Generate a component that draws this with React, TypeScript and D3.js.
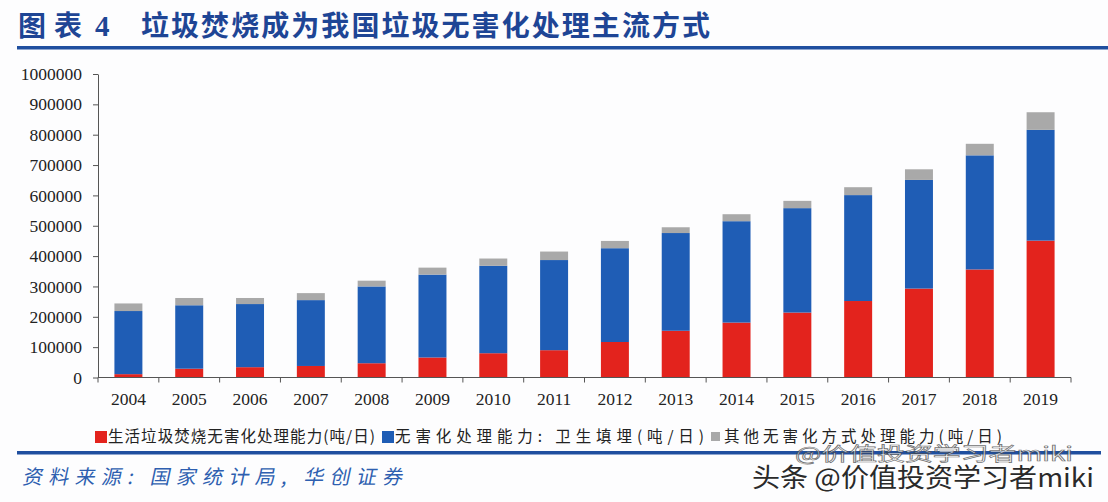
import React, { useEffect, useRef } from "react";
import * as d3 from "d3";

const years = ["2004", "2005", "2006", "2007", "2008", "2009", "2010", "2011", "2012", "2013", "2014", "2015", "2016", "2017", "2018", "2019"];
// 吨/日
const incineration = [11000, 29000, 34000, 38000, 47000, 66000, 80000, 90000, 117000, 154000, 181000, 214000, 252000, 293000, 356000, 451000];
const landfill = [208000, 209000, 208000, 217000, 253000, 273000, 288000, 297000, 309000, 322000, 334000, 344000, 349000, 358000, 376000, 365000];
const other = [25000, 24000, 20000, 23000, 19000, 23000, 24000, 28000, 24000, 19000, 23000, 24000, 26000, 35000, 38000, 58000];
const yTicks = [0, 100000, 200000, 300000, 400000, 500000, 600000, 700000, 800000, 900000, 1000000];
const seriesNames = ["生活垃圾焚烧无害化处理能力(吨/日)", "无害化处理能力: 卫生填埋(吨/日)", "其他无害化方式处理能力(吨/日)"];
const colors = ["#e3231d", "#1f5db5", "#a9a9a9"];

const W = 1108, H = 502;

const App = () => {
  const ref = useRef<SVGSVGElement>(null);

  useEffect(() => {
    document.body.style.margin = "0";
    const svg = d3.select(ref.current);
    svg.selectAll("*").remove();

    const margin = { top: 74, left: 98, right: 1071, bottom: 377.5 };
    const serif = "'Liberation Serif', 'DejaVu Serif', serif";
    const cjk = "'Noto Sans CJK SC', sans-serif";

    svg.append("rect").attr("width", W).attr("height", H).attr("fill", "#fdfdfe");

    // title
    const tg = svg.append("g").attr("fill", "#1e4595").attr("font-family", cjk).attr("font-weight", 700).attr("font-size", 28);
    tg.append("text").attr("x", 18).attr("y", 36).attr("textLength", 64).attr("lengthAdjust", "spacing").text("图表");
    tg.append("text").attr("x", 95).attr("y", 36).attr("font-family", serif).attr("font-size", 29).text("4");
    tg.append("text").attr("x", 141).attr("y", 36).attr("textLength", 569).attr("lengthAdjust", "spacing")
      .text("垃圾焚烧成为我国垃圾无害化处理主流方式");

    svg.append("rect").attr("x", 17).attr("y", 46).attr("width", W - 17).attr("height", 3.5).attr("fill", "#1f4f9f");

    const x = d3.scaleBand().domain(years).range([margin.left, margin.right]).paddingInner(0.54).paddingOuter(0.27);
    const y = d3.scaleLinear().domain([0, 1000000]).range([margin.bottom, margin.top]);

    const rows = years.map((yr, i) => ({ year: yr, a: incineration[i], b: landfill[i], c: other[i] }));
    const stack = d3.stack<any>().keys(["a", "b", "c"])(rows);

    svg.append("g").selectAll("g").data(stack).join("g")
      .attr("fill", (_d, i) => colors[i])
      .selectAll("rect").data(d => d).join("rect")
      .attr("x", d => x(d.data.year)!)
      .attr("width", x.bandwidth())
      .attr("y", d => y(d[1]))
      .attr("height", d => y(d[0]) - y(d[1]));

    // y axis
    const yAxis = svg.append("g").attr("transform", `translate(${margin.left},0)`)
      .call(d3.axisLeft(y).tickValues(yTicks).tickSize(5).tickSizeOuter(0).tickFormat(d3.format("d")));
    yAxis.selectAll("path,line").attr("stroke", "#555");
    yAxis.selectAll("text").attr("font-family", serif).attr("font-size", 17.5).attr("fill", "#222").attr("x", -16);

    // x axis, ticks between categories
    const xa = svg.append("g").attr("transform", `translate(0,${margin.bottom})`);
    xa.append("line").attr("x1", margin.left).attr("x2", margin.right).attr("stroke", "#555");
    const step = x.step();
    const bounds = d3.range(years.length + 1).map(i => margin.left + i * step);
    xa.selectAll(".tk").data(bounds).join("line")
      .attr("x1", d => d).attr("x2", d => d).attr("y1", 0).attr("y2", 5).attr("stroke", "#555");
    xa.selectAll(".lb").data(years).join("text")
      .attr("x", d => x(d)! + x.bandwidth() / 2).attr("y", 27.5)
      .attr("text-anchor", "middle").attr("font-family", serif).attr("font-size", 17.5).attr("fill", "#222")
      .text(d => d);

    // legend
    const legendX = [95, 382, 711];
    const legendW = [267, 309, 278];
    const lg = svg.append("g").attr("font-family", cjk).attr("font-size", 15.5).attr("fill", "#222");
    seriesNames.forEach((n, i) => {
      lg.append("rect").attr("x", legendX[i]).attr("y", i === 2 ? 432 : 431).attr("width", i === 2 ? 9 : 12).attr("height", i === 2 ? 9 : 12).attr("fill", colors[i]);
      lg.append("text").attr("x", legendX[i] + 13).attr("y", 442)
        .attr("textLength", legendW[i]).attr("lengthAdjust", "spacing").text(n);
    });

    // bottom line + source
    svg.append("rect").attr("x", 17).attr("y", 451).attr("width", W - 24).attr("height", 3.5).attr("fill", "#1f4f9f");
    svg.append("g").attr("transform", "translate(22,484) skewX(-12)")
      .append("text").attr("font-family", cjk).attr("font-size", 20).attr("fill", "#2e5fb0")
      .attr("textLength", 380).attr("lengthAdjust", "spacing")
      .text("资料来源: 国家统计局, 华创证券");

    // watermarks
    svg.append("text").attr("x", 795).attr("y", 461)
      .attr("font-family", cjk).attr("font-size", 19).attr("fill", "#fff")
      .attr("stroke", "#444").attr("stroke-width", 0.7).attr("opacity", 0.75)
      .attr("textLength", 278).attr("lengthAdjust", "spacingAndGlyphs")
      .text("@价值投资学习者miki");
    svg.append("text").attr("x", 752).attr("y", 487)
      .attr("font-family", cjk).attr("font-size", 26).attr("fill", "#2a2a2a")
      .attr("stroke", "#fff").attr("stroke-width", 1.2).attr("paint-order", "stroke")
      .attr("textLength", 342).attr("lengthAdjust", "spacingAndGlyphs")
      .text("头条 @价值投资学习者miki");
  }, []);

  return <svg ref={ref} width={W} height={H} style={{ display: "block" }} />;
};

export default App;
